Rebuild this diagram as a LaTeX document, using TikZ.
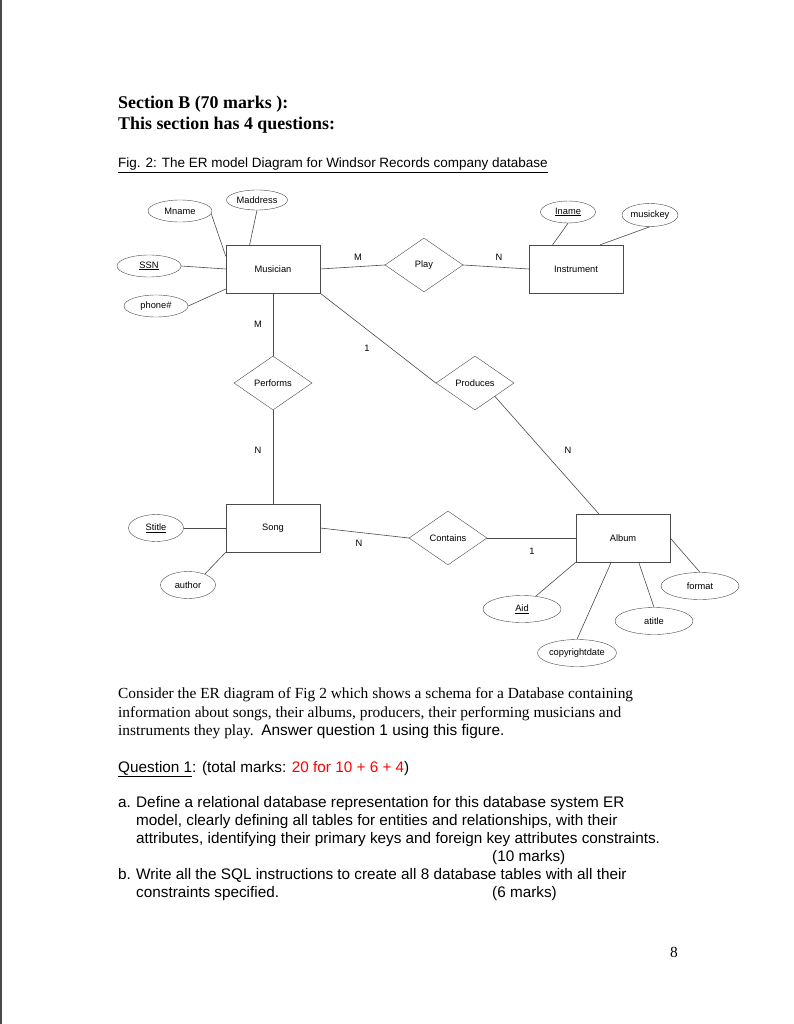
\documentclass[tikz,border=0pt]{standalone}
\usepackage{fontspec}
\setmainfont{Liberation Serif}
\setsansfont{Liberation Sans}
\usetikzlibrary{shapes.geometric}
\definecolor{edgegray}{HTML}{4A4A4A}

\begin{document}
\begin{tikzpicture}[x=1pt,y=-1pt,
    txt/.style={anchor=base west,inner sep=0pt},
    erfont/.style={font=\sffamily\fontsize{9.3}{10}\selectfont},
    entity/.style={draw=edgegray,erfont,minimum width=94pt,minimum height=48pt,inner sep=0pt},
    attr/.style={draw=edgegray,ellipse,erfont,inner sep=0pt,minimum width=64pt,minimum height=22pt},
    relation/.style={draw=edgegray,diamond,erfont,inner sep=0pt,minimum width=78pt,minimum height=54pt},
    card/.style={erfont,inner sep=0pt}]
  \useasboundingbox (0,0) rectangle (794,1024);
  \draw[edgegray,line width=1.5pt] (1,0) -- (1,1024);

  % heading
  \node[txt,font=\bfseries\fontsize{17.9}{20}\selectfont] at (118,109) {Section B (70 marks ):};
  \node[txt,font=\bfseries\fontsize{17.9}{20}\selectfont] at (118,130) {This section has 4 questions:};
  \node[txt,font=\sffamily\fontsize{13.5}{15}\selectfont] at (118,168)
    {\underline{Fig. 2: The ER model Diagram for Windsor Records company database}};

  % entities, relationships and attributes
  \draw
    (273,269) node[entity] (musician){Musician}
    (576,269) node[entity] (instrument){Instrument}
    (273,528) node[entity] (song){Song}
    (623,538) node[entity] (album){Album}
    (424,265) node[relation] (play){Play}
    (273,383) node[relation] (performs){Performs}
    (475,383) node[relation] (produces){Produces}
    (448,538) node[relation] (contains){Contains}
    (180,211) node[attr] (mname){Mname}
    (257,200) node[attr,minimum width=61pt,minimum height=20pt] (maddress){Maddress}
    (149,266) node[attr] (ssn){\underline{SSN}}
    (156,306) node[attr] (phone){phone\#}
    (568,212) node[attr,minimum width=55pt] (iname){\underline{Iname}}
    (650,215) node[attr,minimum width=56pt,minimum height=23pt] (musickey){musickey}
    (156,528) node[attr,minimum width=55pt,minimum height=27pt] (stitle){\underline{Stitle}}
    (188,585) node[attr,minimum width=55pt,minimum height=27pt] (author){author}
    (522,609) node[attr,minimum width=78pt,minimum height=27pt] (aid){\underline{Aid}}
    (577,653) node[attr,minimum width=79pt,minimum height=27pt] (copyright){copyrightdate}
    (654,621) node[attr,minimum width=78pt,minimum height=27pt] (atitle){atitle}
    (700,586) node[attr,minimum width=78pt,minimum height=27pt] (format){format};

  \begin{scope}[edgegray,line width=0.6pt]
    \draw (mname.-5) to (musician.165);
    \draw (maddress.south) to (musician.134);
    \draw (ssn.east) to (musician.west);
    \draw (phone.east) to (musician.203);
    \draw (musician.east) to (play.west);
    \draw (play.east) to (instrument.west);
    \draw (iname.south) to (instrument.134);
    \draw (musickey.south) to (instrument.45);
    \draw (musician.south) to (performs.north);
    \draw (performs.south) to (song.north);
    \draw (musician.south east) to (produces.west);
    \draw (produces.-34) to (album.135);
    \draw (stitle.east) to (song.west);
    \draw (author.33) to (song.south west);
    \draw (song.east) to (contains.west);
    \draw (contains.east) to (album.west);
    \draw (aid.43) to (album.south west);
    \draw (copyright.north) to (album.244);
    \draw (atitle.north) to (album.303);
    \draw (format.north) to (album.east);
  \end{scope}

  % cardinalities
  \node[card] (cmp) at (358,257) {M};
  \node[card] (cnp) at (499,257) {N};
  \node[card] (cmf) at (258,324) {M};
  \node[card] (cnf) at (258,450) {N};
  \node[card] (c1r) at (367,348) {1};
  \node[card] (cnr) at (568,450) {N};
  \node[card] (cnc) at (359,543) {N};
  \node[card] (c1c) at (532,551) {1};

  % question text
  \begin{scope}[every node/.style={txt,font=\fontsize{15.4}{17}\selectfont}]
    \node at (118,698) {Consider the ER diagram of Fig 2 which shows a schema for a Database containing};
    \node at (118,717) {information about songs, their albums, producers, their performing musicians and};
    \node at (118,735) {instruments they play.\ \ \textsf{Answer question 1 using this figure.}};
    \node[font=\sffamily\fontsize{15.3}{17}\selectfont] at (118,772)
      {\underline{Question 1}: (total marks: \textcolor{red}{20 for 10 + 6 + 4})};
  \end{scope}
  \begin{scope}[every node/.style={txt,font=\sffamily\fontsize{15.3}{17}\selectfont}]
    \node at (118,807) {a.};
    \node at (136,807) {Define a relational database representation for this database system ER};
    \node at (136,825) {model, clearly defining all tables for entities and relationships, with their};
    \node at (136,843) {attributes, identifying their primary keys and foreign key attributes constraints.};
    \node at (492,861) {(10 marks)};
    \node at (118,879) {b.};
    \node at (136,879) {Write all the SQL instructions to create all 8 database tables with all their};
    \node at (136,897) {constraints specified.};
    \node at (492,897) {(6 marks)};
  \end{scope}
  \node[txt,font=\fontsize{15.4}{17}\selectfont] at (670,957) {8};
\end{tikzpicture}
\end{document}
